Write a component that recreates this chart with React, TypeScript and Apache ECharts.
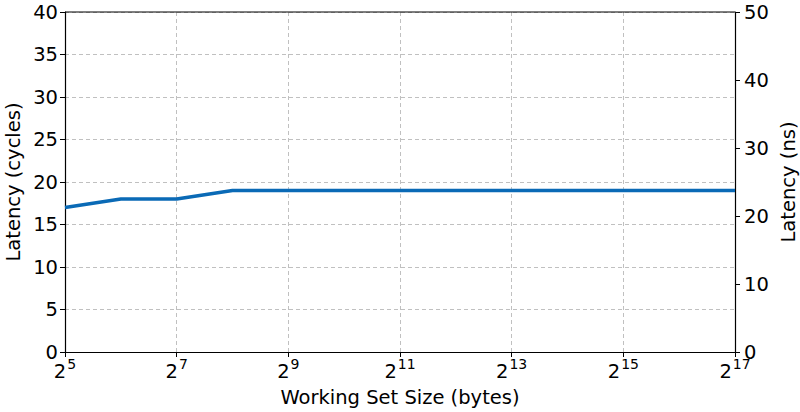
import React, { useEffect, useRef } from "react";
import * as echarts from "echarts";

const exponents = [5, 6, 7, 8, 9, 10, 11, 12, 13, 14, 15, 16, 17];
const latencyCycles = [17, 18, 18, 19, 19, 19, 19, 19, 19, 19, 19, 19, 19];
const cyclesTicks = { min: 0, max: 40, interval: 5 };
const nsTicks = { min: 0, max: 50, interval: 10 };

const FONT = "DejaVu Sans";
const FS = 19.5;

export default function App() {
  const ref = useRef<HTMLDivElement>(null);
  useEffect(() => {
    if (!ref.current) return;
    const chart = echarts.init(ref.current, undefined, { renderer: "svg" });
    const categories = exponents.map((e) => String(e));
    chart.setOption({
      animation: false,
      backgroundColor: "#ffffff",
      grid: { left: 65, right: 65, top: 12, bottom: 60, containLabel: false, outerBoundsMode: "none" },
      xAxis: {
        type: "category",
        data: categories,
        boundaryGap: false,
        name: "Working Set Size (bytes)",
        nameLocation: "middle",
        nameGap: 35,
        nameMoveOverlap: false,
        nameTextStyle: { fontFamily: FONT, fontSize: FS, color: "#000", verticalAlign: "top", lineHeight: 20 },
        axisLine: { lineStyle: { color: "#000", width: 1.2 } },
        axisTick: { interval: 1, length: 5, lineStyle: { color: "#000" } },
        axisLabel: {
          interval: 1,
          margin: 5,
          fontFamily: FONT,
          fontSize: FS,
          color: "#000",
          formatter: (v: string) => `{b|2}{sup|${v}}`,
          rich: {
            b: { fontFamily: FONT, fontSize: FS, color: "#000", lineHeight: 24, verticalAlign: "bottom" },
            sup: { fontFamily: FONT, fontSize: 14, color: "#000", lineHeight: 24, verticalAlign: "top", padding: [0, 0, 0, 1] },
          },
        },
        splitLine: { show: true, interval: 1, lineStyle: { color: "#b0b0b0", type: [4, 3], width: 0.8 } },
      },
      yAxis: [
        {
          type: "value",
          min: cyclesTicks.min,
          max: cyclesTicks.max,
          interval: cyclesTicks.interval,
          name: "Latency (cycles)",
          nameLocation: "middle",
          nameGap: 42,
          nameMoveOverlap: false,
          nameTextStyle: { fontFamily: FONT, fontSize: FS, color: "#000" },
          axisLine: { show: true, lineStyle: { color: "#000", width: 1.2 } },
          axisTick: { show: true, length: 5, lineStyle: { color: "#000" } },
          axisLabel: { fontFamily: FONT, fontSize: FS, color: "#000", margin: 7 },
          splitLine: { show: true, lineStyle: { color: "#b0b0b0", type: [4, 3], width: 0.8 } },
        },
        {
          type: "value",
          position: "right",
          min: nsTicks.min,
          max: nsTicks.max,
          interval: nsTicks.interval,
          name: "Latency (ns)",
          nameLocation: "middle",
          nameGap: 43,
          nameRotate: 90,
          nameMoveOverlap: false,
          nameTextStyle: { fontFamily: FONT, fontSize: FS, color: "#000" },
          axisLine: { show: true, lineStyle: { color: "#000", width: 1.2 } },
          axisTick: { show: true, length: 5, lineStyle: { color: "#000" } },
          axisLabel: { fontFamily: FONT, fontSize: FS, color: "#000", margin: 9 },
          splitLine: { show: false },
        },
      ],
      series: [
        {
          type: "line",
          data: latencyCycles,
          yAxisIndex: 0,
          showSymbol: false,
          lineStyle: { color: "#0a6ab6", width: 3.5 },
          itemStyle: { color: "#0a6ab6" },
        },
      ],
      graphic: [
        {
          type: "rect",
          shape: { x: 65, y: 12, width: 670, height: 0 },
          style: { stroke: "#000", lineWidth: 1.2, fill: "none" },
          z: 10,
        },
      ],
    });
    return () => chart.dispose();
  }, []);
  return (
    <div
      ref={ref}
      style={{ position: "absolute", left: 0, top: 0, width: 800, height: 412 }}
    />
  );
}
